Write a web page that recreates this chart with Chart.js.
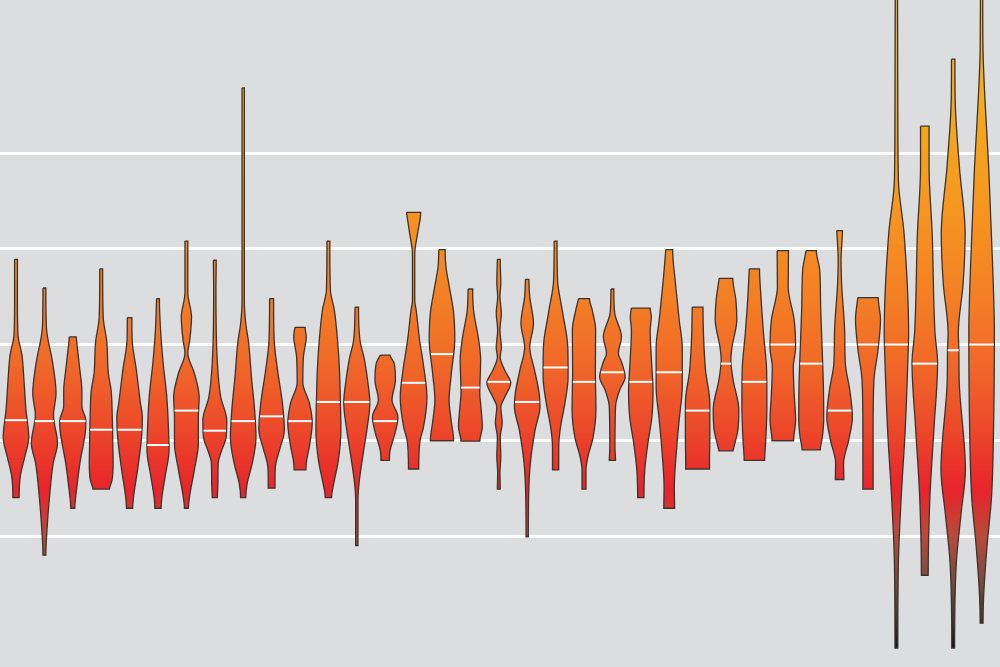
<!DOCTYPE html>
<html>
<head>
<meta charset="utf-8">
<script src="https://cdn.jsdelivr.net/npm/chart.js@4.4.1/dist/chart.umd.min.js"></script>
<style>
  html, body { margin: 0; padding: 0; background: #dcdddf; }
  #wrap { width: 1000px; height: 667px; }
</style>
</head>
<body>
<div id="wrap"><canvas id="violins"></canvas></div>
<script>
// ====== DATA ======
// horizontal reference lines
const gridLines = [10, 20, 30, 40, 50];

// median of each violin, left to right
const medians = [22.1, 22.0, 22.0, 21.1, 21.1, 19.5, 23.1, 21.0, 22.0, 22.5,
                 22.0, 24.0, 24.0, 22.0, 26.0, 29.0, 25.5, 26.1, 24.0, 27.6,
                 26.1, 27.1, 26.1, 27.1, 23.1, 28.0, 26.1, 30.0, 28.0, 23.1,
                 30.0, 30.0, 28.0, 29.4, 30.0];

// violin outlines: [value, half width] from top to bottom
const profiles = [
  [[38.9,0.05],[34.6,0.05],[31.0,0.07],[28.9,0.21],[26.3,0.28],[23.2,0.35],[20.3,0.45],[18.3,0.31],[16.2,0.15],[14.0,0.11]],
  [[35.9,0.05],[31.8,0.07],[28.1,0.29],[24.9,0.41],[22.6,0.32],[19.7,0.46],[17.6,0.31],[14.1,0.18],[10.6,0.09],[8.0,0.05]],
  [[30.8,0.12],[30.2,0.14],[27.3,0.25],[25.2,0.32],[23.5,0.32],[22.1,0.46],[21.1,0.45],[17.6,0.25],[14.8,0.13],[12.9,0.07]],
  [[37.9,0.05],[32.9,0.07],[30.2,0.20],[27.0,0.25],[25.2,0.35],[22.4,0.39],[19.3,0.41],[17.6,0.42],[15.8,0.38],[14.9,0.29]],
  [[32.8,0.08],[30.5,0.09],[27.3,0.24],[23.9,0.38],[22.4,0.45],[20.3,0.42],[16.9,0.28],[14.1,0.14],[12.9,0.11]],
  [[34.8,0.05],[31.5,0.09],[28.1,0.18],[24.5,0.31],[21.1,0.37],[19.0,0.39],[16.2,0.25],[14.1,0.14],[12.9,0.11]],
  [[40.8,0.05],[35.4,0.05],[32.9,0.18],[30.5,0.12],[29.1,0.05],[27.0,0.28],[24.5,0.45],[22.4,0.42],[19.7,0.42],[16.9,0.28],[14.1,0.11],[12.9,0.07]],
  [[38.8,0.05],[35.7,0.04],[28.1,0.09],[24.5,0.21],[22.1,0.42],[20.3,0.40],[19.0,0.25],[17.6,0.12],[15.5,0.11],[14.0,0.09]],
  [[56.8,0.04],[34.6,0.04],[32.2,0.09],[30.2,0.19],[26.6,0.29],[23.2,0.40],[20.3,0.45],[17.6,0.32],[15.5,0.14],[14.0,0.09]],
  [[34.8,0.07],[30.5,0.09],[27.3,0.21],[23.9,0.38],[21.1,0.45],[19.0,0.28],[17.6,0.15],[16.2,0.12],[15.0,0.12]],
  [[31.8,0.18],[30.8,0.22],[28.7,0.12],[26.0,0.10],[23.9,0.33],[21.8,0.43],[19.7,0.35],[17.6,0.22],[16.9,0.21]],
  [[40.8,0.05],[35.7,0.07],[33.6,0.21],[30.5,0.32],[27.3,0.39],[24.2,0.42],[21.1,0.44],[17.9,0.35],[15.8,0.21],[14.0,0.11]],
  [[33.9,0.06],[30.5,0.11],[28.4,0.27],[25.6,0.41],[23.9,0.46],[21.4,0.37],[18.7,0.23],[15.8,0.09],[13.8,0.04],[9.0,0.04]],
  [[28.9,0.17],[28.1,0.31],[26.3,0.36],[24.2,0.24],[22.4,0.45],[20.8,0.35],[18.7,0.16],[17.9,0.15]],
  [[43.8,0.25],[41.6,0.14],[39.9,0.05],[39.1,0.04],[34.6,0.04],[33.6,0.09],[30.5,0.21],[27.6,0.36],[24.5,0.47],[21.4,0.35],[20.0,0.23],[17.0,0.18]],
  [[39.9,0.11],[38.1,0.14],[36.0,0.26],[33.3,0.41],[30.5,0.45],[27.0,0.33],[24.2,0.25],[22.1,0.32],[19.95,0.41]],
  [[35.8,0.08],[33.6,0.11],[30.5,0.29],[28.4,0.36],[24.9,0.33],[23.5,0.37],[21.4,0.42],[19.9,0.33]],
  [[38.9,0.05],[36.4,0.07],[35.0,0.04],[33.3,0.09],[31.5,0.04],[29.7,0.09],[28.7,0.05],[27.3,0.21],[26.0,0.42],[24.5,0.21],[23.5,0.07],[21.8,0.12],[20.3,0.05],[18.3,0.07],[16.6,0.04],[14.9,0.05]],
  [[36.8,0.06],[35.0,0.09],[32.2,0.22],[29.7,0.09],[27.3,0.26],[24.9,0.42],[23.5,0.45],[21.1,0.28],[17.6,0.11],[14.1,0.05],[9.9,0.04]],
  [[40.8,0.05],[36.7,0.07],[33.3,0.25],[29.7,0.43],[26.6,0.44],[23.9,0.33],[21.1,0.16],[19.3,0.11],[16.9,0.11]],
  [[34.8,0.19],[33.6,0.29],[31.5,0.41],[27.3,0.40],[23.2,0.42],[20.3,0.32],[18.3,0.14],[16.9,0.07],[14.9,0.07]],
  [[35.8,0.05],[33.3,0.08],[30.8,0.32],[29.1,0.21],[28.1,0.33],[26.6,0.45],[25.2,0.25],[23.5,0.11],[19.3,0.09],[17.9,0.11]],
  [[33.8,0.33],[32.9,0.37],[31.5,0.33],[28.1,0.38],[25.2,0.43],[22.4,0.39],[19.7,0.25],[16.9,0.14],[14.0,0.11]],
  [[39.9,0.12],[36.7,0.21],[32.6,0.35],[29.7,0.46],[25.6,0.46],[22.1,0.35],[18.7,0.25],[15.1,0.18],[12.9,0.19]],
  [[33.9,0.19],[30.8,0.21],[27.3,0.28],[23.9,0.43],[20.3,0.43],[17.9,0.42],[17.0,0.42]],
  [[36.9,0.24],[34.6,0.35],[32.6,0.38],[29.7,0.21],[28.4,0.17],[26.3,0.25],[23.2,0.45],[21.1,0.42],[19.3,0.28],[18.9,0.25]],
  [[37.9,0.18],[35.0,0.23],[31.2,0.32],[27.3,0.43],[23.5,0.44],[20.0,0.40],[17.9,0.36]],
  [[39.8,0.20],[36.0,0.19],[32.6,0.40],[29.7,0.45],[27.6,0.37],[24.9,0.40],[22.1,0.45],[19.95,0.38]],
  [[39.8,0.18],[37.8,0.30],[34.3,0.33],[30.8,0.37],[25.6,0.43],[22.1,0.44],[20.3,0.39],[19.0,0.32]],
  [[41.9,0.10],[38.8,0.05],[36.4,0.07],[31.2,0.18],[28.1,0.20],[25.2,0.36],[22.4,0.45],[20.0,0.32],[17.6,0.14],[15.9,0.15]],
  [[34.9,0.36],[32.6,0.44],[29.4,0.35],[26.3,0.21],[21.1,0.18],[14.9,0.18]],
  [[67.0,0.04],[55.5,0.05],[47.2,0.07],[41.6,0.27],[31.2,0.43],[29.9,0.42],[21.1,0.31],[14.1,0.17],[7.2,0.07],[-1.7,0.05]],
  [[52.8,0.15],[48.5,0.15],[41.6,0.26],[31.2,0.36],[28.1,0.45],[21.1,0.32],[14.1,0.18],[5.9,0.12]],
  [[59.8,0.06],[55.5,0.07],[48.5,0.22],[41.6,0.42],[36.4,0.35],[31.2,0.18],[29.4,0.20],[26.3,0.21],[16.9,0.43],[12.4,0.28],[7.2,0.11],[-1.7,0.05]],
  [[67.0,0.04],[60.8,0.05],[55.5,0.12],[48.5,0.25],[38.1,0.39],[31.2,0.45],[21.1,0.42],[14.1,0.35],[8.9,0.19],[3.6,0.07],[0.9,0.05]]
];

// ====== COLOURS ======
const colourStops = [
  [66, "#f4b61a"], [59.7, "#f5b21b"], [45.1, "#f6981f"], [34.6, "#f47e24"],
  [28.4, "#f16a28"], [22.1, "#ed4d2a"], [14.8, "#e8242a"], [10.1, "#b94a3a"],
  [5.4, "#7c4a42"], [1.2, "#3c3636"], [-1.9, "#0c0c0c"]
];

let fillGradient = null;
function violinFill(context) {
  const chart = context.chart;
  if (!chart.chartArea) return "#f06a2a";
  if (!fillGradient) {
    const ys = chart.scales.y;
    const top = ys.getPixelForValue(ys.max);
    const bottom = ys.getPixelForValue(ys.min);
    fillGradient = chart.ctx.createLinearGradient(0, top, 0, bottom);
    colourStops.forEach(([v, c]) => {
      const t = (ys.getPixelForValue(v) - top) / (bottom - top);
      fillGradient.addColorStop(Math.min(1, Math.max(0, t)), c);
    });
  }
  return fillGradient;
}

// ====== SHAPES ======
function outline(i, prof) {
  const pts = [{ x: i - prof[0][1], y: prof[0][0] }];
  prof.forEach(([y, w]) => pts.push({ x: i + w, y }));
  for (let k = prof.length - 1; k >= 0; k--) {
    pts.push({ x: i - prof[k][1], y: prof[k][0] });
  }
  return pts;
}

function widthAt(prof, v) {
  for (let k = 0; k < prof.length - 1; k++) {
    const [y0, w0] = prof[k];
    const [y1, w1] = prof[k + 1];
    if (v <= y0 && v >= y1) return w0 + (w1 - w0) * (y0 - v) / (y0 - y1);
  }
  return 0;
}

const datasets = [];
profiles.forEach((prof, i) => {
  datasets.push({
    data: outline(i, prof),
    order: 1,
    borderColor: "#3a3430",
    borderWidth: 1.3,
    backgroundColor: violinFill,
    fill: "shape",
    cubicInterpolationMode: "monotone"
  });
  const w = widthAt(prof, medians[i]) * 0.97;
  datasets.push({
    data: [{ x: i - w, y: medians[i] }, { x: i + w, y: medians[i] }],
    order: 0,
    borderColor: "#ffffff",
    borderWidth: 2,
    fill: false
  });
});

// ====== CHART ======
new Chart(document.getElementById("violins"), {
  type: "line",
  data: { datasets },
  options: {
    indexAxis: "y",
    responsive: true,
    maintainAspectRatio: false,
    animation: false,
    layout: { padding: 0 },
    elements: { point: { radius: 0, hoverRadius: 0 } },
    plugins: {
      legend: { display: false },
      tooltip: { enabled: false }
    },
    scales: {
      x: { type: "linear", display: false, min: -0.5634, max: 34.648 },
      y: {
        type: "linear",
        min: -3.68,
        max: 65.98,
        afterBuildTicks: (scale) => { scale.ticks = gridLines.map(v => ({ value: v })); },
        ticks: { display: false },
        border: { display: false },
        grid: { color: "#ffffff", lineWidth: 3, drawTicks: false }
      }
    }
  }
});
</script>
</body>
</html>
